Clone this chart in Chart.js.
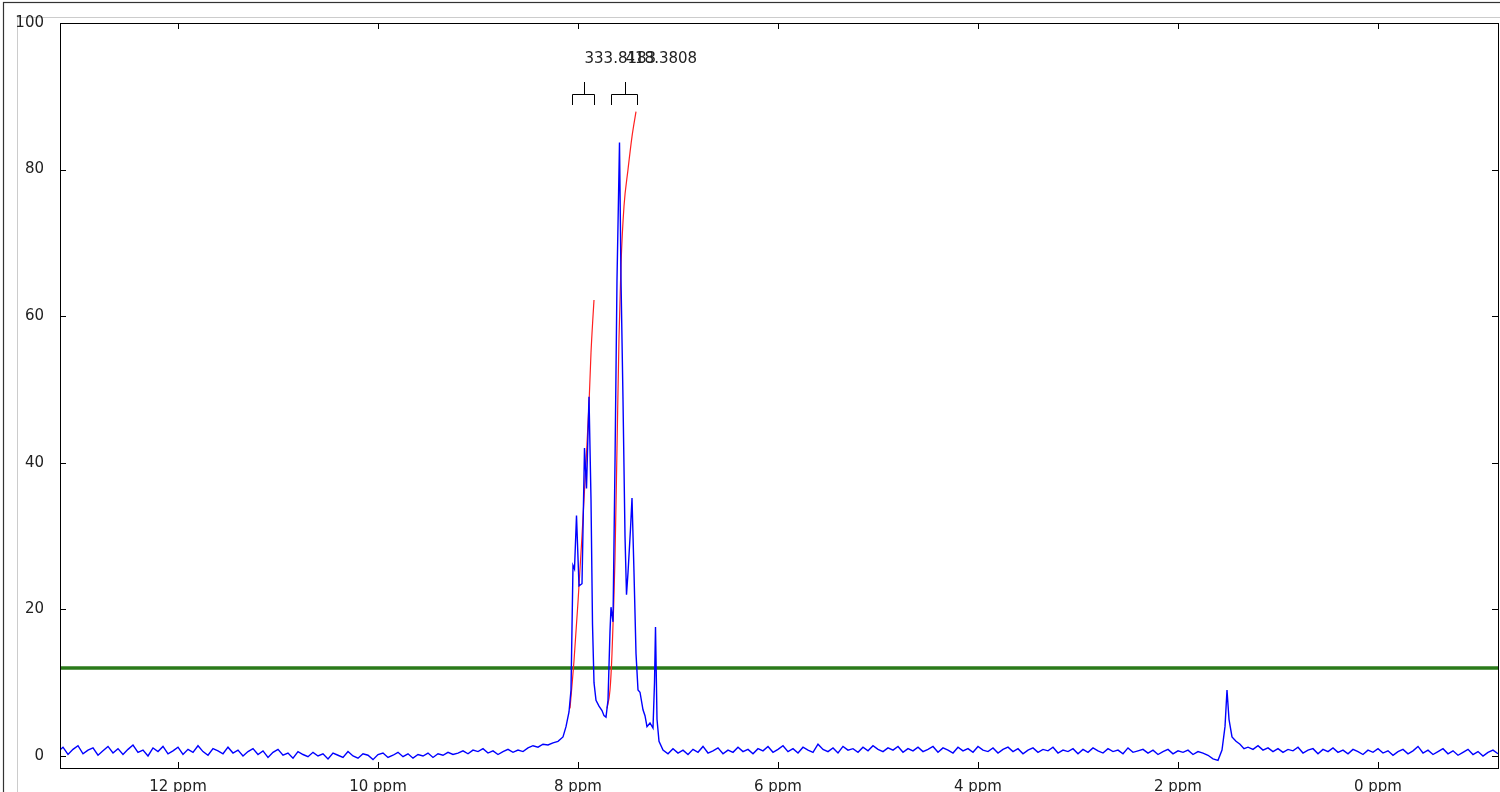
<!DOCTYPE html>
<html>
<head>
<meta charset="utf-8">
<script src="https://cdn.jsdelivr.net/npm/chart.js@4.4.0/dist/chart.umd.min.js"></script>
<style>
  html, body { margin: 0; padding: 0; background: #fff; }
  #wrap { width: 1500px; height: 792px; }
</style>
</head>
<body>
<div id="wrap"><canvas id="nmr"></canvas></div>
<script>
// x ticks (ppm) and y ticks
const xTicks = [12, 10, 8, 6, 4, 2, 0];
const yTicks = [0, 20, 40, 60, 80, 100];

// baseline noise, 0.05 ppm steps
const noiseLeftStart = 13.2;
const noiseLeft = [0.6,1.2,0.2,0.9,1.4,0.3,0.8,1.1,0.1,0.7,1.3,0.4,1.0,0.2,0.9,1.5,0.5,0.8,0.0,1.1,
  0.6,1.3,0.3,0.7,1.2,0.2,0.9,0.5,1.4,0.6,0.1,1.0,0.7,0.3,1.2,0.4,0.8,0.0,0.6,1.0,
  0.2,0.7,-0.2,0.5,0.9,0.1,0.4,-0.3,0.6,0.2,-0.1,0.5,0.0,0.3,-0.4,0.4,0.1,-0.2,0.6,0.0,
  -0.3,0.3,0.1,-0.5,0.2,0.4,-0.2,0.1,0.5,-0.1,0.3,-0.3,0.2,0.0,0.4,-0.2,0.3,0.1,0.5,0.2,
  0.4,0.7,0.3,0.8,0.6,1.0,0.4,0.7,0.2,0.6,0.9,0.5,0.8,0.6,1.1,1.4,1.2,1.6,1.5];
const noiseMidStart = 7.1;
const noiseMid = [0.3,1.0,0.4,0.8,0.2,0.9,0.5,1.3,0.4,0.7,1.1,0.3,0.8,0.5,1.2,0.6,0.9,0.3,1.0,0.7,
  1.3,0.5,0.9,1.4,0.6,1.0,0.4,1.2,0.8,0.5,1.6,0.9,0.6,1.1,0.4,1.3,0.8,1.0,0.5,1.2,
  0.7,1.4,0.9,0.6,1.1,0.8,1.3,0.5,1.0,0.7,1.2,0.6,0.9,1.3,0.5,1.1,0.8,0.4,1.2,0.7,
  1.0,0.5,1.3,0.8,0.6,1.1,0.4,0.9,1.2,0.6,1.0,0.3,0.8,1.1,0.5,0.9,0.7,1.2,0.4,0.8,
  0.6,1.0,0.3,0.9,0.5,1.1,0.7,0.4,1.0,0.6,0.8,0.3,1.1,0.5,0.7,0.9,0.4,0.8,0.2,0.6,
  0.9,0.3,0.7,0.5,0.8,0.2,0.6,0.4,0.1,-0.4];
const noiseRightStart = 1.3;
const noiseRight = [1.2,0.9,1.4,0.8,1.1,0.6,1.0,0.5,0.9,0.7,1.2,0.4,0.8,1.0,0.3,0.9,0.6,1.1,0.5,0.8,
  0.3,0.9,0.6,0.2,0.8,0.5,1.0,0.4,0.7,0.1,0.6,0.9,0.3,0.7,1.3,0.4,0.8,0.2,0.6,1.0,
  0.3,0.7,0.1,0.5,0.9,0.2,0.6,0.0,0.5,0.8,0.3];

// peak regions: [ppm, intensity]
const peakAromatic = [[8.25,1.8],[8.2,2.0],[8.15,2.6],[8.12,4.0],[8.09,6.0],[8.07,9.0],[8.05,26.0],[8.035,25.5],[8.015,32.8],
  [8.0,27.0],[7.99,23.2],[7.96,23.5],[7.935,42.0],[7.915,36.5],[7.89,49.0],[7.87,35.0],[7.855,18.0],[7.84,10.0],
  [7.82,7.6],[7.79,6.8],[7.76,6.2],[7.74,5.5],[7.72,5.3],[7.70,7.6],[7.68,17.0],[7.67,20.3],[7.65,18.3],
  [7.63,40.0],[7.61,65.0],[7.585,83.7],[7.57,65.0],[7.55,48.6],[7.53,30.0],[7.515,22.0],[7.50,25.0],
  [7.475,31.0],[7.46,35.2],[7.44,25.0],[7.42,14.0],[7.40,9.0],[7.38,8.7],[7.35,6.3],[7.33,5.5],[7.31,4.0],
  [7.28,4.5],[7.25,3.8],[7.235,10.0],[7.225,17.6],[7.21,5.0],[7.19,2.0],[7.15,0.8]];
const peakAliphatic = [[1.6,-0.6],[1.56,0.8],[1.53,4.0],[1.51,9.0],[1.49,5.0],[1.46,2.6],[1.42,2.0],[1.38,1.6],[1.34,1.0]];

// integrals
const integral1 = [[8.08,6.5],[8.04,13],[8.0,21],[7.96,30],[7.92,40],[7.89,48],[7.87,55],[7.85,60],[7.84,62.2]];
const integral2 = [[7.71,6.5],[7.68,9],[7.66,14],[7.63,27],[7.61,42],[7.59,57],[7.57,67],[7.54,75],[7.50,80],[7.46,84.5],[7.42,87.9]];
const integralRanges = [[8.06, 7.84], [7.67, 7.41]];
const integralLabels = ["333.8183", "418.3808"];
const thresholdLevel = 12;

function noisePts(start, vals) {
  return vals.map((v, i) => ({ x: +(start - i * 0.05).toFixed(3), y: v }));
}
const spectrum = [].concat(
  noisePts(noiseLeftStart, noiseLeft),
  peakAromatic.map(p => ({ x: p[0], y: p[1] })),
  noisePts(noiseMidStart, noiseMid),
  peakAliphatic.map(p => ({ x: p[0], y: p[1] })),
  noisePts(noiseRightStart, noiseRight)
).sort((a, b) => b.x - a.x);

const framePlugin = {
  id: 'frame',
  beforeDraw(chart) {
    const c = chart.ctx;
    c.save();
    c.fillStyle = '#fff';
    c.fillRect(0, 0, chart.width, chart.height);
    c.strokeStyle = '#333'; c.lineWidth = 1.2;
    c.strokeRect(3.5, 2.5, 1500, 800);
    c.strokeStyle = '#ccc'; c.lineWidth = 1;
    c.strokeRect(17.5, 17.5, 1500, 800);
    c.restore();
  },
  afterDraw(chart) {
    const c = chart.ctx, a = chart.chartArea;
    const xs = chart.scales.x, ys = chart.scales.y;
    c.save();
    c.strokeStyle = '#000'; c.lineWidth = 1;
    c.strokeRect(a.left + 0.5, a.top + 0.5, a.right - a.left, a.bottom - a.top);
    xTicks.forEach(t => {
      const px = Math.round(xs.getPixelForValue(t)) + 0.5;
      c.beginPath(); c.moveTo(px, a.bottom); c.lineTo(px, a.bottom - 6);
      c.moveTo(px, a.top); c.lineTo(px, a.top + 6); c.stroke();
    });
    yTicks.forEach(t => {
      const py = Math.round(ys.getPixelForValue(t)) + 0.5;
      c.beginPath(); c.moveTo(a.left, py); c.lineTo(a.left + 6, py);
      c.moveTo(a.right, py); c.lineTo(a.right - 6, py); c.stroke();
    });
    // integral brackets
    c.font = '15px "DejaVu Sans"'; c.fillStyle = '#222';
    c.textAlign = 'left'; c.textBaseline = 'alphabetic';
    integralRanges.forEach((r, i) => {
      const x1 = Math.round(xs.getPixelForValue(r[0])) + 0.5;
      const x2 = Math.round(xs.getPixelForValue(r[1])) + 0.5;
      const xm = Math.round((x1 + x2) / 2) + 0.5;
      c.beginPath();
      c.moveTo(x1, 105); c.lineTo(x1, 94.5); c.lineTo(x2, 94.5); c.lineTo(x2, 105);
      c.moveTo(xm, 94.5); c.lineTo(xm, 82); c.stroke();
      c.fillText(integralLabels[i], xm, 63);
    });
    c.restore();
  }
};

new Chart(document.getElementById('nmr'), {
  type: 'line',
  data: {
    datasets: [
      { data: spectrum, borderColor: '#0000ff', borderWidth: 1.4, pointRadius: 0, tension: 0 },
      { data: integral1.map(p => ({ x: p[0], y: p[1] })), borderColor: '#ff2020', borderWidth: 1.2, pointRadius: 0, cubicInterpolationMode: 'monotone' },
      { data: integral2.map(p => ({ x: p[0], y: p[1] })), borderColor: '#ff2020', borderWidth: 1.2, pointRadius: 0, cubicInterpolationMode: 'monotone' },
      { data: [{ x: 13.18, y: thresholdLevel }, { x: -1.2, y: thresholdLevel }], borderColor: '#2a7a1a', borderWidth: 3.5, pointRadius: 0 }
    ]
  },
  options: {
    responsive: true, maintainAspectRatio: false, animation: false,
    layout: { padding: { top: 23, right: 2, left: 0, bottom: 0 } },
    plugins: { legend: { display: false }, tooltip: { enabled: false } },
    scales: {
      x: {
        type: 'linear', reverse: true, min: -1.2, max: 13.18,
        grid: { display: false }, border: { display: false },
        afterBuildTicks: s => { s.ticks = xTicks.map(v => ({ value: v })); },
        afterFit: s => { s.height = 24; },
        ticks: { color: '#222', font: { family: 'DejaVu Sans', size: 15 }, padding: 2,
          callback: v => v + ' ppm' }
      },
      y: {
        min: -1.64, max: 100,
        grid: { display: false }, border: { display: false },
        afterBuildTicks: s => { s.ticks = yTicks.map(v => ({ value: v })); },
        afterFit: s => { s.width = 60; },
        ticks: { color: '#222', font: { family: 'DejaVu Sans', size: 15 }, padding: 8 }
      }
    }
  },
  plugins: [framePlugin]
});
</script>
</body>
</html>
